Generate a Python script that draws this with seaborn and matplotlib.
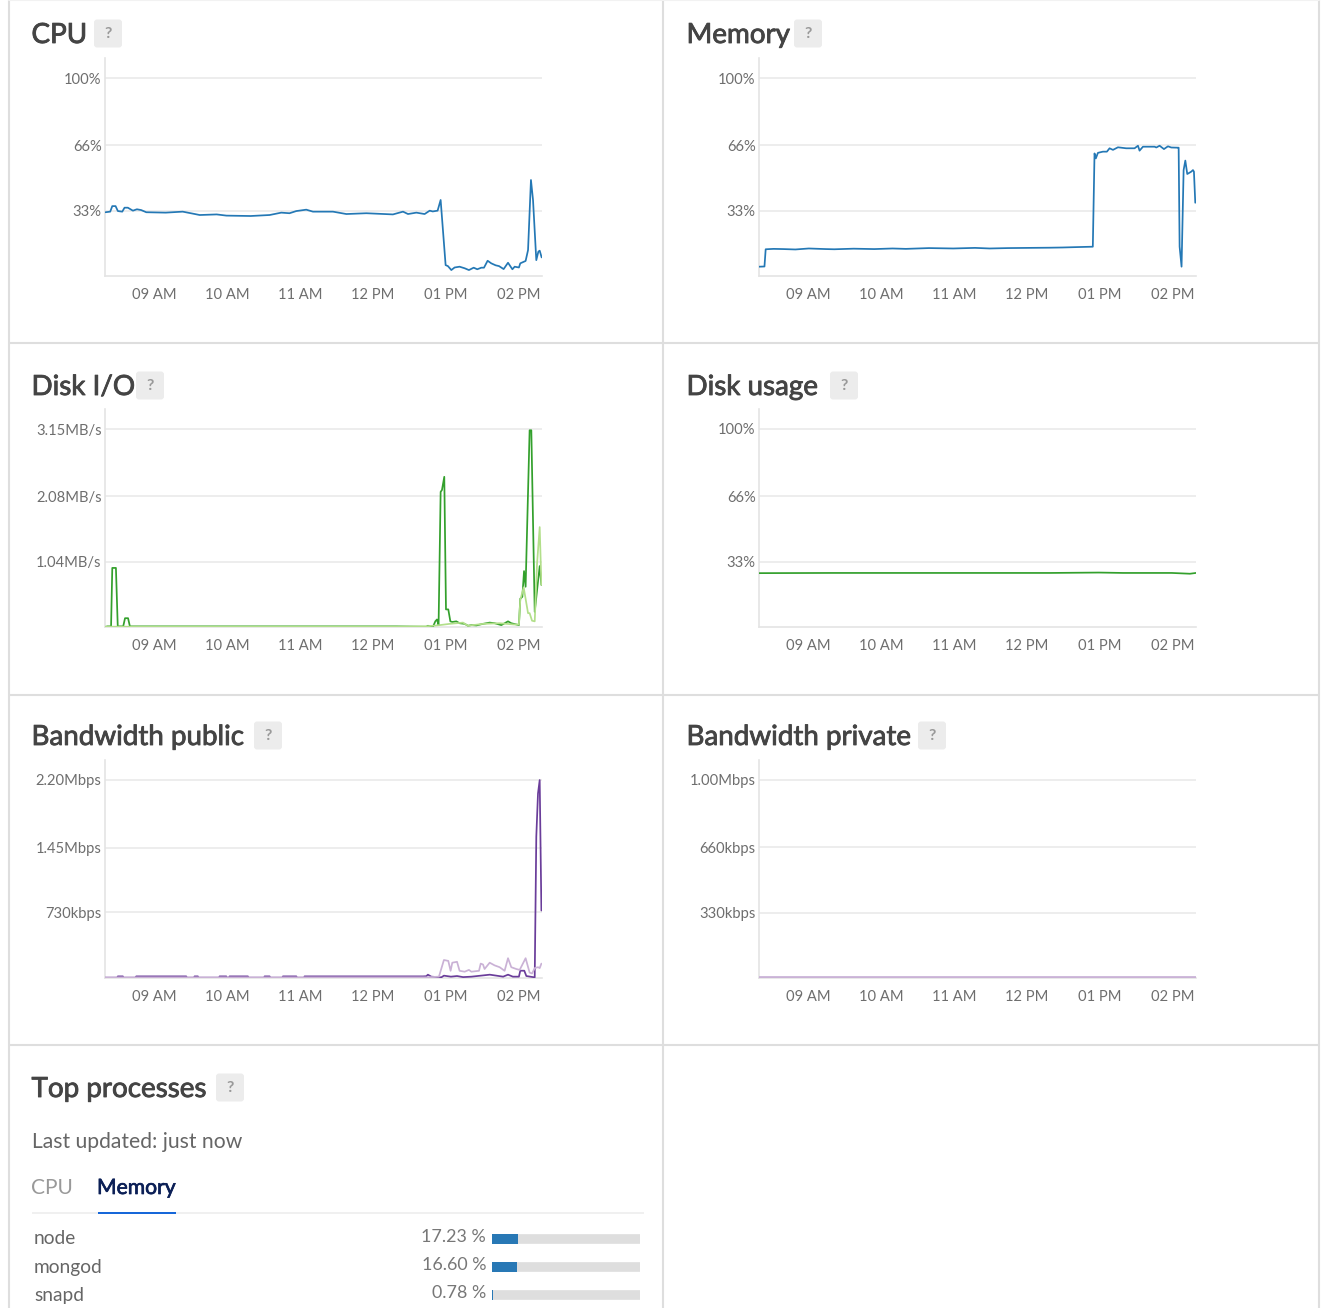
import matplotlib
matplotlib.use("Agg")
import matplotlib.pyplot as plt
import matplotlib.patheffects as pe
from matplotlib.transforms import ScaledTranslation
from matplotlib.patches import FancyBboxPatch, Rectangle
import seaborn as sns

W, H = 1338, 1308
sns.set_style("white")
plt.rcParams['font.family'] = ['Lato', 'DejaVu Sans']

HOUR_TICKS = [0, 40, 100, 160, 220, 280, 340, 360]
HOUR_LABELS = ['', '09 AM', '10 AM', '11 AM', '12 PM', '01 PM', '02 PM', '']

cpu_t = [0.4, 4.3, 6, 8.7, 10.6, 14.2, 16.1, 18.8, 23, 26.3, 29.8, 34, 50, 64, 74, 78, 92, 100, 120, 135.6, 145.2, 152,
         157.6, 165.8, 171.3, 187.8, 198.8, 215.3, 237.2, 245.5, 249.6, 256.5, 263.3, 267.5, 270, 274,
         276.5, 280.6, 282.5, 285.3, 288, 292.1, 296.3, 299.8, 303.7,
         306.7, 310, 312.2, 315.2, 318.2, 321.8, 324.6, 328.4, 332, 335.6, 337.5, 341, 342.1, 346.5, 348.5, 350.9,
         352.6, 355.3, 357, 358.1, 359.7]
cpu_v = [32.2, 32.5, 35.3, 35.3, 32.8, 32.5, 34.5, 34.5, 33, 33.7, 33.3, 32.2, 32, 32.5, 31.3, 30.8, 31.1, 30.5, 30.3,
         30.8, 32, 31.7, 32.8, 33.5, 32.5, 32.5, 31.3, 31.7, 31.1, 32.5, 31.3, 32, 31.3, 33, 32.6, 33,
         38.4, 5.5, 5, 3, 4.3, 4.7, 3.9, 3, 4.2, 3.4, 4.2, 4.2, 7.7, 6.4, 5.4, 5, 3.5, 6.7, 3.4, 4.7, 4.3, 6.4, 7.6,
         13.1, 48.5, 38.4, 8, 12.3, 12.8, 9.4]

mem_t = [0, 4.5, 5.5, 12, 20, 30, 41, 55, 62, 78, 95, 110, 121, 140, 160, 178, 190, 205, 222, 240, 250, 262, 275,
         276.4, 277.5, 279.2, 283.3,
         286.6, 288.8, 291.6, 295.7, 302.5, 309.4, 312.2, 313.5, 316.3, 325.9, 327.3, 330, 333.6, 336.9, 339.6, 345.1,
         345.7, 346.5, 348.1, 349.8, 351.2, 352.8, 356.1, 357.5, 358.3, 359.4]
mem_v = [4.7, 4.8, 13.5, 13.7, 13.6, 13.4, 13.9, 13.6, 13.5, 13.8, 13.6, 13.9, 13.7, 14.1, 13.9, 14.2, 13.9, 14.1, 14.2, 14.3,
         14.4, 14.6, 14.8, 61.9, 59.4,
         62.2, 62.8, 62.8, 64.5, 63.7, 65, 64.5, 64.5, 65.8, 63.3, 65.3, 65.3, 64.9, 65.8, 64.1, 65.5, 64.9, 64.8, 64.8,
         14.8, 4.7, 53.5, 58.3, 51.5, 52.7, 53.5, 52.7, 37]

io_dark_t = [0, 2, 5, 6, 9, 10.5, 15, 16.5, 19, 20.5, 60, 120, 180, 240, 264.7, 266, 268.8, 270.2, 272.1, 273.5, 274.8,
             276.5, 277.6, 279.5, 280.9, 282.8, 284.5, 286.1, 289.4, 292.1, 296.3, 299, 301.8, 305.9, 311.4, 316.9, 321,
             326.5, 332, 334.7, 341, 342.1, 343.8, 345.2, 346.5, 349.8, 351.2, 354, 358.1, 359.5]
io_dark_v = [0, .01, .01, .94, .94, .01, .01, .14, .14, .01, .01, .01, .01, .01, .004, .02, .004, .004, .09, .12, .03,
             2.15, 2.18, 2.39, .28, .28, .09, .08, .09, .06, .05, .02, .03, .025, .05, .07, .06, .03, .09, .06, .03,
             .45, .48, .89, .64, 3.13, 3.13, .24, .97, .67]
io_light_t = [0, 60, 120, 180, 240, 264.7, 275.7, 283.9, 294.9, 299, 311.4, 325.1, 336.9, 341, 342.1, 344.9, 348.5, 349.8,
              351.8, 354, 355.9, 358.1, 359.5]
io_light_v = [.005, .005, .005, .005, .005, .01, .03, .05, .07, .02, .05, .06, .04, .04, .43, .63, .22, .22, .1, .09, 1.0, 1.59, .67]

usage_t = [0, 60, 120, 180, 240, 280, 300, 340, 355, 360]
usage_dark_v = [27.2, 27.3, 27.3, 27.3, 27.3, 27.5, 27.3, 27.3, 26.9, 27.3]

pub_dark_t = [0, 10, 10.6, 14.7, 15.3, 25, 25.7, 66.9, 67.5, 73.2, 73.8, 76.5, 77, 94, 94.4, 99.9, 100.5, 102, 102.6, 117.7,
              118.3, 131, 131.5, 135.6, 136.2, 146, 146.6, 157.6, 158.2, 164, 164.4, 167.2, 168.6, 262, 264.7, 266, 268.8,
              277, 279.2, 285, 290, 295, 302, 317, 328,
              332, 336, 341, 342.1, 345.4, 347.1, 354, 355.3, 356.7, 358.1, 359.5]
pub_dark_v = [.003, .003, .018, .018, .003, .003, .018, .018, .003, .003, .018, .018, .003, .003, .018, .018, .003, .003, .018, .018,
              .003, .003, .018, .018, .003, .003, .018, .018, .003, .003, .018, .018, .018, .018, .02, .037, .015,
              .007, .026, .015, .022, .01, .015, .037, .015,
              .037, .015, .015, .081, .081, .022, .007, 1.57, 2.05, 2.2, .75]
pub_light_t = [0, 60, 120, 180, 240, 264.7, 275.1, 279.2, 282.8, 284.7, 286.1, 290, 292.1, 296.3, 299.8, 301.8, 308.1, 309.5,
               311.4, 312.7, 316.9, 321, 325.1, 329.2, 332, 334.7, 338.8, 341.6, 346.5, 349.8, 351.8, 354, 356.7, 358.1, 359.5]
pub_light_v = [.007, .007, .007, .007, .007, .007, .015, .2, .19, .08, .17, .18, .08, .07, .09, .07, .08, .16, .15, .1, .17, .14,
               .12, .08, .22, .12, .1, .09, .22, .06, .05, .11, .12, .11, .16]

priv_t = [0, 120, 240, 360]
priv_dark_v = [.004, .004, .004, .004]
priv_light_v = [.004, .004, .004, .004]

proc_names = ['node', 'mongod', 'snapd']
proc_vals = [17.23, 16.60, 0.78]
track_vals = [100, 100, 100]

BLUE, LIGHT_GREEN, GREEN = '#2478b5', '#b2df8a', '#33a02c'
LIGHT_PURPLE, PURPLE = '#cab2d6', '#6a3d9a'
GRID = '#e8e8e8'
AXIS = '#e4e4e4'
TICKC = '#6e6e6e'

fig = plt.figure(figsize=(W / 100, H / 100), dpi=100, facecolor='white')


def axes_px(x0, y0, x1, y1, **kw):
    return fig.add_axes([x0 / W, 1 - y1 / H, (x1 - x0) / W, (y1 - y0) / H], **kw)


def chart(left, zero_y, ymax, yticks, ylabels, series):
    ax = axes_px(left, zero_y - 218, left + 437, zero_y)
    ax.set_facecolor('none')
    for t, v, c, lw, a in series:
        sns.lineplot(x=t, y=v, color=c, linewidth=lw, alpha=a, estimator=None, sort=False, ax=ax, zorder=3)
    ax.set_xlim(0, 360)
    ax.set_ylim(0, ymax * 218 / 198)
    ax.set_xticks(HOUR_TICKS)
    ax.set_xticklabels(HOUR_LABELS)
    ax.set_yticks(yticks)
    ax.set_yticklabels(ylabels)
    ax.set_xlabel('')
    ax.set_ylabel('')
    ax.tick_params(axis='x', length=6.5, width=1.2, color=AXIS, labelcolor=TICKC, labelsize=10.6, pad=2)
    ax.tick_params(axis='y', length=0, labelcolor=TICKC, labelsize=10.6, pad=2.5)
    nudge = ScaledTranslation(0.8 / 100, 0, fig.dpi_scale_trans)
    for lab in ax.get_xticklabels():
        lab.set_transform(lab.get_transform() + nudge)
    ax.grid(axis='y', color=GRID, linewidth=1.1)
    ax.set_axisbelow(True)
    for s in ('top', 'right'):
        ax.spines[s].set_visible(False)
    for s in ('left', 'bottom'):
        ax.spines[s].set_color(AXIS)
        ax.spines[s].set_linewidth(1.2)
    return ax


L1, L2 = 105, 759
pct_t = [33, 66, 100]
pct_l = ['33%', '66%', '100%']
LW = 1.25
chart(L1, 276, 100, pct_t, pct_l, [(cpu_t, cpu_v, BLUE, LW, 1)])
chart(L2, 276, 100, pct_t, pct_l, [(mem_t, mem_v, BLUE, LW, 1)])
chart(L1, 627, 3.15, [1.04, 2.08, 3.15], ['1.04MB/s', '2.08MB/s', '3.15MB/s'],
      [(io_dark_t, io_dark_v, GREEN, LW, 1), (io_light_t, io_light_v, LIGHT_GREEN, LW, 1)])
chart(L2, 627, 100, pct_t, pct_l, [(usage_t, usage_dark_v, GREEN, LW, 1)])
chart(L1, 978, 2.20, [.73, 1.45, 2.20], ['730kbps', '1.45Mbps', '2.20Mbps'],
      [(pub_dark_t, pub_dark_v, PURPLE, LW, 1), (pub_light_t, pub_light_v, LIGHT_PURPLE, LW, 1)])
chart(L2, 978, 1.00, [.33, .66, 1.00], ['330kbps', '660kbps', '1.00Mbps'],
      [(priv_t, priv_dark_v, PURPLE, 1.0, 1), (priv_t, priv_light_v, LIGHT_PURPLE, 1.8, 1)])

# Page furniture drawn in pixel coordinates
ov = axes_px(0, 0, W, H, zorder=-1)
ov.set_xlim(0, W)
ov.set_ylim(H, 0)
ov.axis('off')
FRAME = '#dedede'
for x in (9.25, 663, 1318.75):
    ov.plot([x, x], [0, H], color=FRAME, lw=1.5, solid_capstyle='butt')
for y in (343, 695, 1045):
    ov.plot([9, 1319], [y, y], color=FRAME, lw=1.5, solid_capstyle='butt')
ov.plot([9, 1319], [0, 0], color='#f2f2f2', lw=1.5)

TITLE_C = '#444444'
titles = [('CPU', 32, 33, 94), ('Memory', 687, 33, 794), ('Disk I/O', 32, 385, 136), ('Disk usage', 687, 385, 830),
          ('Bandwidth public', 32, 735, 254), ('Bandwidth private', 687, 735, 918), ('Top processes', 32, 1087, 216)]
for txt, x, y, bx in titles:
    ov.text(x - 0.5, y + 2, txt, fontsize=20, color=TITLE_C, va='center', ha='left',
            path_effects=[pe.withStroke(linewidth=0.6, foreground=TITLE_C)])
    ov.add_patch(FancyBboxPatch((bx + 3, y - 10.5), 22, 22, boxstyle='round,pad=3,rounding_size=3',
                                facecolor='#ececec', edgecolor='none'))
    ov.text(bx + 14, y + 0.5, '?', fontsize=11.5, color='#999999', ha='center', va='center', fontweight='bold')

ov.text(31.5, 1142, 'Last updated: just now', fontsize=15.2, color='#666666', va='center')
ov.text(31.5, 1188, 'CPU', fontsize=15, color='#999999', va='center')
ov.text(97, 1188, 'Memory', fontsize=15.2, color='#0b1f56', va='center',
        path_effects=[pe.withStroke(linewidth=0.5, foreground='#0b1f56')])
ov.plot([32, 644], [1213, 1213], color='#ededed', lw=1.2, solid_capstyle='butt')
ov.add_patch(Rectangle((98, 1212), 78, 2, facecolor='#1667d9', edgecolor='none', zorder=3))

for i, (n, v) in enumerate(zip(proc_names, proc_vals)):
    ov.text(34, 1239 + 28 * i, n, fontsize=13.8, color='#666666', va='center')
    ov.text(486, 1237 + 28 * i, f'{v:.2f} %', fontsize=12.9, color='#777777', va='center', ha='right')

bar_ax = axes_px(492, 1225, 640, 1308)
sns.barplot(x=track_vals, y=proc_names, color='#dedede', width=.28, saturation=1, orient='h', ax=bar_ax)
n_track = len(bar_ax.patches)
sns.barplot(x=proc_vals, y=proc_names, color='#2878b5', width=.33, saturation=1, orient='h', ax=bar_ax)
for p in bar_ax.patches[:n_track]:
    p.set_edgecolor(p.get_facecolor())
    p.set_linewidth(1.2)
    p.set_joinstyle('round')
for p in bar_ax.patches[n_track:]:
    p.set_linewidth(0)
bar_ax.set_xlim(0, 100)
bar_ax.set_ylim(2.464, -0.5)
bar_ax.axis('off')

fig.savefig('out.png', dpi=100, facecolor='white')
